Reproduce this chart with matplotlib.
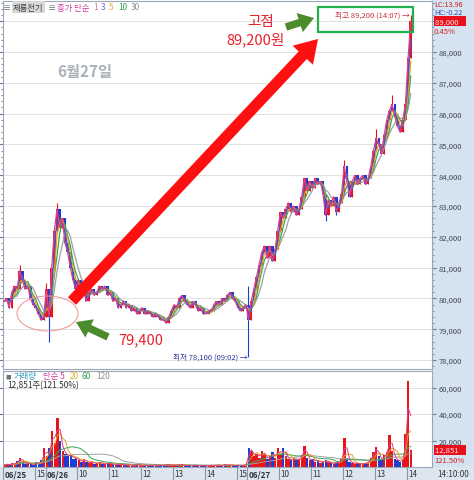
import numpy as np
import pandas as pd
import matplotlib
matplotlib.use('Agg')
import matplotlib.pyplot as plt
from matplotlib import patches, transforms
from matplotlib.ticker import MultipleLocator

plt.rcParams['font.family'] = ['Noto Sans CJK KR', 'DejaVu Sans']

W, H = 474, 481

# 5분봉 종가 (06/25 14:00~, 06/26 09:00~, 06/27 09:00~14:10)
close_0625 = [79900, 80000, 79700, 80200, 80400, 80300, 80900, 80600, 80300, 80400,
              80000, 79800, 79700, 79500, 79300, 79400]
close_0626 = [80300, 79400, 81000, 82200, 82900, 82300, 82600, 81800, 81500, 81000,
              80600, 80300, 80600, 80100, 80300, 79900, 80200, 80300, 80100, 80200,
              80400, 80300, 80400, 80100, 80200, 79900, 80000, 79700, 79800, 79900,
              79700, 79800, 79600, 79700, 79500, 79600, 79700, 79500, 79600, 79500,
              79400, 79500, 79400, 79300, 79300, 79200, 79400, 79600, 79800, 79700,
              80000, 80100, 79900, 79800, 79700, 79900, 79800, 79600, 79700, 79500,
              79500, 79600, 79600, 79800, 79900, 79800, 80000, 79900, 80100, 80200,
              80000, 79900, 79700, 79600, 79700, 79800]
close_0627 = [79300, 79900, 80300, 80700, 81100, 81500, 81700, 81300, 81700, 81200,
              81600, 82200, 82800, 82600, 82900, 83100, 82800, 83000, 82700, 82900,
              83300, 83900, 83500, 83800, 83600, 83900, 83700, 83800, 83400, 82700,
              83200, 83000, 83300, 82800, 83100, 83400, 84300, 83800, 83300, 83800,
              84000, 83700, 83900, 84000, 83700, 83900, 84300, 84800, 85200, 85000,
              84700, 85300, 85800, 86100, 86300, 85900, 85600, 85400, 85800, 86300,
              87800, 89000]

# 꼬리 (봉 번호: 가격)
wick_high = {6: 81100, 16: 80500, 20: 83100, 92: 80400, 128: 84500, 140: 85500,
             146: 86600, 153: 89200}
wick_low = {17: 78600, 92: 78100, 121: 82500, 125: 82700}

vol_0625 = [1500, 2500, 1200, 3000, 2000, 4500, 7000, 3500, 2500, 3000,
            2000, 1500, 3500, 2500, 5000, 14000]
vol_0626 = [8000, 14000, 27000, 18000, 37000, 20000, 12000, 10000, 8000, 9000,
            6000, 7000, 5000, 4000, 6000, 3500, 3000, 4000, 2500, 3000,
            3500, 2500, 2000, 3000, 2500, 2000, 1800, 2500, 1500, 2000,
            1200, 1800, 1000, 1500, 2200, 1200, 1000, 1600, 900, 1300,
            1100, 2000, 1000, 1400, 900, 2500, 1500, 1200, 1800, 1000,
            2200, 1500, 1000, 1300, 900, 1100, 1600, 800, 1200, 1000,
            900, 1200, 1500, 1000, 1800, 1300, 1100, 2000, 1400, 1600,
            1200, 1000, 1500, 900, 1300, 2500]
vol_0627 = [14000, 12000, 8000, 10000, 7000, 12000, 9000, 6000, 8000, 11000,
            7000, 14000, 9000, 14000, 8000, 6000, 5000, 7000, 5000, 6000,
            9000, 16000, 7000, 5000, 6000, 4000, 5000, 3000, 4000, 5000,
            3500, 3000, 2500, 4000, 3000, 6000, 22000, 7000, 4000, 3000,
            2500, 3000, 2000, 2500, 3000, 4000, 7000, 11000, 15000, 8000,
            5000, 9000, 11000, 24000, 12000, 6000, 5000, 4000, 6000, 25000,
            65000, 12851]

price_ticks = list(range(78000, 89001, 1000))
vol_ticks = [20000, 40000, 60000]

close = close_0625 + close_0626 + close_0627
volume = vol_0625 + vol_0626 + vol_0627
times = (list(pd.date_range('2018-06-25 14:00', periods=len(close_0625), freq='5min')) +
         list(pd.date_range('2018-06-26 09:00', periods=len(close_0626), freq='5min')) +
         list(pd.date_range('2018-06-27 09:00', periods=len(close_0627), freq='5min')))
n = len(close)
x = np.arange(n)

opens = [close[0]] + close[:-1]
highs = [max(o, c) for o, c in zip(opens, close)]
lows = [min(o, c) for o, c in zip(opens, close)]
for k, v in wick_high.items():
    highs[k] = max(highs[k], v)
for k, v in wick_low.items():
    lows[k] = min(lows[k], v)

UP, DOWN = '#e8141c', '#1f3cd0'
cols = []
last = UP
for o, c in zip(opens, close):
    if c > o:
        last = UP
    elif c < o:
        last = DOWN
    cols.append(last)

fig = plt.figure(figsize=(W / 100, H / 100), dpi=100)


def fx(px):
    return px / W


def fy(py):
    return 1 - py / H


# 배경 (오른쪽 축, 아래 시간 띠)
fig.add_artist(patches.Rectangle((fx(432), fy(468)), 1 - fx(432), fy(0) - fy(468),
                                 transform=fig.transFigure, fc='#d5e2f0', ec='none', zorder=-2))
fig.add_artist(patches.Rectangle((0, 0), 1, fy(468), transform=fig.transFigure,
                                 fc='#dde5ee', ec='none', zorder=-2))

ax = fig.add_axes([fx(3), fy(370), fx(432) - fx(3), fy(2) - fy(370)])
axv = fig.add_axes([fx(3), fy(468), fx(432) - fx(3), fy(372) - fy(468)])

# 캔들
body_lo = [min(o, c) for o, c in zip(opens, close)]
body_h = [max(abs(c - o), 40) for o, c in zip(opens, close)]
ax.vlines(x, lows, highs, colors=cols, lw=0.8, zorder=2)
ax.bar(x, body_h, bottom=body_lo, width=0.95, color=cols, zorder=2)

s = pd.Series(close, dtype=float)
ma_set = [(6, '#a0a0a0'), (4, '#3aa655'), (3, '#e8a317'), (2, '#3a5fcd'), (1, '#e0408a')]
for w, c in ma_set:
    ax.plot(x, s.rolling(w, min_periods=1).mean(), color=c, lw=0.9, zorder=3)

ax.set_xlim(-0.3, 161)
ax.set_ylim(77708, 89657)
ax.set_yticks(price_ticks)
ax.set_yticklabels([f'{v:,}' if v < 89000 else '' for v in price_ticks])
ax.yaxis.set_minor_locator(MultipleLocator(200))
ax.yaxis.tick_right()
ax.tick_params(axis='y', which='both', left=True, right=True, direction='out',
               colors='#6a7a90', labelcolor='#404850', labelsize=5.5, pad=2)
ax.tick_params(axis='y', which='major', length=3)
ax.tick_params(axis='y', which='minor', length=1.5)
ax.tick_params(axis='x', bottom=False, labelbottom=False)
ax.grid(axis='y', color='#dcdcdc', lw=0.6, zorder=0)
for sp in ax.spines.values():
    sp.set_color('#9aa6b8')
    sp.set_linewidth(0.8)

# 거래량
axv.bar(x, volume, width=0.9, color=cols, zorder=2)
vs = pd.Series(volume, dtype=float)
for w, c in [(24, '#a0a0a0'), (12, '#3aa655'), (4, '#e8a317'), (2, '#e0408a')]:
    axv.plot(x, vs.rolling(w, min_periods=1).mean(), color=c, lw=0.7, zorder=3)
axv.set_xlim(-0.3, 161)
axv.set_ylim(0, 72500)
axv.set_yticks(vol_ticks)
axv.set_yticklabels([f'{v:,}' for v in vol_ticks])
axv.yaxis.tick_right()
axv.tick_params(axis='y', which='both', left=True, right=True, direction='out', length=3,
                colors='#6a7a90', labelcolor='#404850', labelsize=5.5, pad=2)
axv.grid(axis='y', color='#dcdcdc', lw=0.6, zorder=0)
for sp in axv.spines.values():
    sp.set_color('#9aa6b8')
    sp.set_linewidth(0.8)

# 시간축 눈금
tick_pos, tick_lab = [], []
for i, t in enumerate(times):
    if i == 0 or times[i - 1].date() != t.date():
        tick_pos.append(i - 0.5)
        tick_lab.append((t.strftime('%m/%d'), True))
    elif t.minute == 0:
        tick_pos.append(i - 0.5)
        tick_lab.append((str(t.hour), False))
axv.set_xticks(tick_pos)
axv.tick_params(axis='x', direction='out', length=9, color='#8a96a8', labelbottom=False)
tx = axv.get_xaxis_transform()
for p, (lab, bold) in zip(tick_pos, tick_lab):
    axv.text(p + 0.5, -0.07, lab, transform=tx, ha='left', va='center', fontsize=5.8,
             color='#303540', fontweight='bold' if bold else 'normal', clip_on=False)
fig.text(fx(437), fy(475), '14:10:00', fontsize=5.8, color='#303540', va='center')

# 머리글
fig.text(fx(3), fy(8), '≡', fontsize=6, color='#707070', va='center')
fig.text(fx(13), fy(8), '제룡전기', fontsize=6, color='#404040', va='center',
         bbox=dict(boxstyle='square,pad=0.15', fc='#d8d8d8', ec='none'))
fig.text(fx(48), fy(8), '≡', fontsize=6, color='#707070', va='center')
for px, txt, c in [(57, '종가 단순', '#d040a0'), (93, '1', '#e070b0'), (101, '3', '#6a6ad0'),
                   (109, '5', '#e0b030'), (118, '10', '#30a050'), (131, '30', '#909090')]:
    fig.text(fx(px), fy(8), txt, fontsize=6, color=c, va='center')

fig.text(fx(5), fy(377), '■', fontsize=4, color='#707070', va='center')
for px, txt, c in [(14, '거래량', '#30a0b8'), (43, '단순 5', '#d040a0'), (70, '20', '#e0b030'),
                   (82, '60', '#30a050'), (96, '120', '#909090')]:
    fig.text(fx(px), fy(377), txt, fontsize=6, color=c, va='center')
fig.text(fx(7), fy(386), '12,851주(121.50%)', fontsize=6, color='#303030', va='center')

# 오른쪽 현재가 표시
fig.text(fx(434), fy(5), 'LC:13.96', fontsize=5.2, color='#d02020', va='center')
fig.text(fx(434), fy(13), 'HC:-0.22', fontsize=5.2, color='#3050c0', va='center')
bt = transforms.blended_transform_factory(fig.transFigure, ax.transData)
fig.text(fx(435), close[-1], '89,000    ', transform=bt, fontsize=5.5, color='#ffe8e8',
         va='center', bbox=dict(boxstyle='square,pad=0.12', fc='#e8101a', ec='none'))
fig.text(fx(434), fy(32), '0.45%', fontsize=5.5, color='#d02020', va='center')
btv = transforms.blended_transform_factory(fig.transFigure, axv.transData)
fig.text(fx(435), volume[-1], '12,851    ', transform=btv, fontsize=5.5, color='#ffe8e8',
         va='center', bbox=dict(boxstyle='square,pad=0.12', fc='#e8101a', ec='none'))
fig.text(fx(434), fy(461), '121.50%', fontsize=5.5, color='#d02020', va='center')

# 최고/최저 표시
ax.text(152.7, max(highs), '최고 89,200 (14:07) →', ha='right', va='center', fontsize=5.5,
        color='#c83040', zorder=5)
ax.text(91.8, min(lows), '최저 78,100 (09:02) →', ha='right', va='center', fontsize=5.5,
        color='#2838a0', zorder=5)

# 주석
fig.text(fx(85), fy(72), '6월27일', fontsize=11, color='#a9b1ba', fontweight='bold',
         ha='center', va='center')
fig.text(fx(261), fy(22), '고점', fontsize=10.5, color='#e8202a', ha='center', va='center')
fig.text(fx(256), fy(40), '89,200원', fontsize=10.5, color='#e8202a', ha='center', va='center')
fig.text(fx(141), fy(340), '79,400', fontsize=10.5, color='#e8202a', ha='center', va='center')

fig.add_artist(patches.Ellipse((fx(47.5), fy(314.5)), 61 / W, 35 / H, transform=fig.transFigure,
                               fill=False, ec='#f09090', lw=0.7, zorder=4))
fig.add_artist(patches.Rectangle((fx(318), fy(33)), 95 / W, 25 / H, transform=fig.transFigure,
                                 fill=False, ec='#22b14c', lw=1.6, zorder=4))
fig.add_artist(patches.FancyArrowPatch((fx(72), fy(302)), (fx(318), fy(40)),
                                       transform=fig.transFigure, shrinkA=0, shrinkB=0,
                                       arrowstyle='simple,head_width=2.0,head_length=1.6,tail_width=0.8',
                                       mutation_scale=10, fc='#ff1010', ec='none', zorder=4))
for a, b in [((286, 28), (314, 19)), ((108, 338), (76, 323))]:
    fig.add_artist(patches.FancyArrowPatch((fx(a[0]), fy(a[1])), (fx(b[0]), fy(b[1])),
                                           transform=fig.transFigure, shrinkA=0, shrinkB=0,
                                           arrowstyle='simple,head_width=1.6,head_length=1.2,tail_width=0.6',
                                           mutation_scale=9, fc='#4b8b2b', ec='none', zorder=4))

fig.savefig('out.png', dpi=100)
